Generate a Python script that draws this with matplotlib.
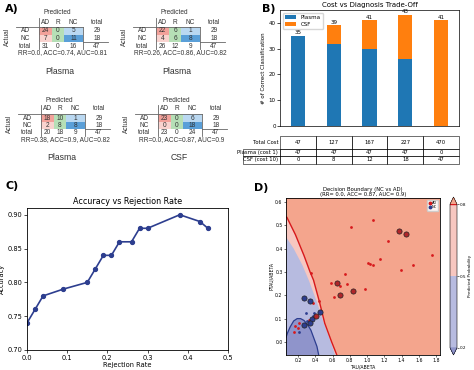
import matplotlib
matplotlib.use('Agg')
import matplotlib.pyplot as plt
import numpy as np
from matplotlib.patches import Rectangle
from matplotlib.colors import ListedColormap, BoundaryNorm
import matplotlib.cm as mcm
from matplotlib.lines import Line2D

# ---------------- Panel A data ----------------
cm_classes = ['AD', 'R', 'NC']
cm_rows = ['AD', 'NC']
cm1 = [[24, 0, 5], [7, 0, 11]]
cm2 = [[22, 6, 1], [4, 6, 8]]
cm3 = [[18, 10, 1], [2, 8, 8]]
cm4 = [[23, 0, 6], [0, 0, 18]]
cm_stats = ['RR=0.0, ACC=0.74, AUC=0.81', 'RR=0.26, ACC=0.86, AUC=0.82',
            'RR=0.38, ACC=0.9, AUC=0.82', 'RR=0.0, ACC=0.87, AUC=0.9']
cm_sample = ['Plasma', 'Plasma', 'Plasma', 'CSF']

# ---------------- Panel B data ----------------
strategies = [0, 1, 2, 3, 4]
plasma_correct = [35, 32, 30, 26, 0]
csf_correct = [0, 7, 11, 17, 41]
table_rows = ['Total Cost', 'Plasma (cost 1)', 'CSF (cost 10)']
total_cost = [47, 127, 167, 227, 470]
plasma_n = [47, 47, 47, 47, 0]
csf_n = [0, 8, 12, 18, 47]

# ---------------- Panel C data ----------------
rej_rate = [0.0, 0.02, 0.04, 0.09, 0.15, 0.17, 0.19, 0.21, 0.23, 0.26, 0.28, 0.30, 0.38, 0.43, 0.45]
accuracy = [0.74, 0.76, 0.78, 0.79, 0.80, 0.82, 0.84, 0.84, 0.86, 0.86, 0.88, 0.88, 0.90, 0.89, 0.88]

# ---------------- Panel D data ----------------
b08_x = [0.061, 0.07, 0.17, 0.27, 0.34, 0.38, 0.45, 0.51, 0.59, 0.65]
b08_y = [0.535, 0.535, 0.46, 0.37, 0.30, 0.265, 0.17, 0.08, 0.0, -0.056]
b05_x = [0.061, 0.15, 0.25, 0.33, 0.42, 0.50, 0.58, 0.63]
b05_y = [0.45, 0.40, 0.33, 0.26, 0.17, 0.08, 0.0, -0.056]
b02_x = [0.061, 0.08, 0.11, 0.15, 0.19, 0.23, 0.27, 0.31, 0.35, 0.39, 0.42, 0.44]
b02_y = [0.02, 0.04, 0.065, 0.09, 0.10, 0.10, 0.092, 0.075, 0.05, 0.01, -0.02, -0.056]
ad_x = [1.073, 0.811, 1.24, 1.754, 1.015, 1.035, 1.066, 1.151, 1.537, 1.398, 0.745, 0.579,
        0.687, 0.772, 0.614, 0.973, 0.351, 0.447, 0.374, 0.208, 0.196, 0.157, 0.169, 0.324]
ad_y = [0.522, 0.493, 0.433, 0.373, 0.34, 0.334, 0.329, 0.354, 0.329, 0.307, 0.291, 0.254,
        0.24, 0.249, 0.194, 0.228, 0.297, 0.176, 0.165, 0.08, 0.06, 0.044, 0.07, 0.094]
nc_x = [0.293, 0.37, 0.215, 0.31, 0.39]
nc_y = [0.123, 0.11, 0.044, 0.09, 0.125]
nc_big_x = [0.266, 0.336, 0.459, 0.362, 0.343, 0.273]
nc_big_y = [0.187, 0.177, 0.129, 0.097, 0.083, 0.073]
ad_big_x = [0.656, 0.683, 0.841, 1.367, 1.449, 0.409]
ad_big_y = [0.251, 0.2, 0.219, 0.477, 0.461, 0.111]
prob_levels = [0.2, 0.5, 0.8]

fig = plt.figure(figsize=(4.74, 3.70), dpi=100)

# ================= Panel A =================
axA = fig.add_axes([0, 0.5, 0.5, 0.5])
axA.set_xlim(0, 237)
axA.set_ylim(185, 0)
axA.axis('off')
FA = 'Liberation Sans'
TC = '#333333'
FS = 4.7
col_edges = [39, 52, 64, 83]
row_edges = [27, 35, 42]
dark = {0: '#f2a19a', 2: '#5a9fd8'}
light = {0: '#f9d3cf', 2: '#bad8f1'}
rcol = '#b6dfb6'


def draw_cm(ox, oy, m, stats, sample):
    m = np.array(m)
    axA.text(ox + 57, oy + 13, 'Predicted', ha='center', va='center', fontsize=FS, family=FA, color=TC)
    axA.text(ox + 7, oy + 37, 'Actual', ha='center', va='center', fontsize=FS, rotation=90, family=FA, color=TC)
    centers = [(col_edges[j] + col_edges[j + 1]) / 2 + ox for j in range(3)]
    for j, c in enumerate(cm_classes):
        axA.text(centers[j], oy + 22, c, ha='center', va='center', fontsize=FS, family=FA, color=TC)
    axA.text(ox + 97, oy + 22, 'total', ha='center', va='center', fontsize=FS, family=FA, color=TC)
    for i, r in enumerate(cm_rows):
        yc = (row_edges[i] + row_edges[i + 1]) / 2 + oy
        axA.text(ox + 25, yc, r, ha='center', va='center', fontsize=FS, family=FA, color=TC)
        for j in range(3):
            if j == 1:
                fc = rcol
            else:
                correct = (i == 0 and j == 0) or (i == 1 and j == 2)
                fc = dark[j] if correct else light[j]
            axA.add_patch(Rectangle((col_edges[j] + ox, row_edges[i] + oy),
                                    col_edges[j + 1] - col_edges[j], row_edges[i + 1] - row_edges[i],
                                    facecolor=fc, edgecolor='none'))
            axA.text(centers[j], yc, str(m[i, j]), ha='center', va='center', fontsize=FS, family=FA, color=TC)
        axA.text(ox + 97, yc, str(m[i].sum()), ha='center', va='center', fontsize=FS, family=FA, color=TC)
    axA.text(ox + 25, oy + 46, 'total', ha='center', va='center', fontsize=FS, family=FA, color=TC)
    for j in range(3):
        axA.text(centers[j], oy + 46, str(m[:, j].sum()), ha='center', va='center', fontsize=FS, family=FA, color=TC)
    axA.text(ox + 97, oy + 46, str(m.sum()), ha='center', va='center', fontsize=FS, family=FA, color=TC)
    lc = '#666666'
    axA.plot([ox + 16, ox + 83], [oy + 27, oy + 27], color=lc, lw=0.6)
    axA.plot([ox + 39, ox + 39], [oy + 18, oy + 49], color=lc, lw=0.6)
    axA.plot([ox + 83, ox + 83], [oy + 27, oy + 49], color=lc, lw=0.6)
    axA.plot([ox + 83, ox + 108], [oy + 42, oy + 42], color=lc, lw=0.6)
    axA.text(ox + 63, oy + 53, stats, ha='center', va='center', fontsize=FS, family=FA, color=TC)
    axA.text(ox + 60, oy + 71, sample, ha='center', va='center', fontsize=6.2, family=FA, color=TC)


offsets = [(0, 0), (117, 0), (2, 87), (119, 87)]
for (ox, oy), m, st, sm in zip(offsets, [cm1, cm2, cm3, cm4], cm_stats, cm_sample):
    draw_cm(ox, oy, m, st, sm)

# ================= Panel B =================
axB = fig.add_axes([280 / 474, 1 - 126 / 370, 179 / 474, 116 / 370])
axB.bar(strategies, plasma_correct, width=0.4, color='#1f77b4', label='Plasma')
axB.bar(strategies, csf_correct, width=0.4, bottom=plasma_correct, color='#ff7f0e', label='CSF')
for s, p, c in zip(strategies, plasma_correct, csf_correct):
    axB.text(s, p + c + 0.3, str(p + c), ha='center', va='bottom', fontsize=4)
axB.set_xlim(-0.5, 4.5)
axB.set_ylim(0, 45)
axB.set_yticks([0, 10, 20, 30, 40])
axB.set_xticks([])
axB.tick_params(axis='y', labelsize=4, length=2, width=0.5, pad=1)
axB.set_ylabel('# of Correct Classification', fontsize=4, labelpad=2)
axB.set_title('Cost vs Diagnosis Trade-Off', fontsize=5, pad=2)
for sp in axB.spines.values():
    sp.set_linewidth(0.5)
axB.legend(loc='upper left', fontsize=4, frameon=True, handlelength=2, borderpad=0.4, labelspacing=0.3)

# table under the bars (drawn in axes coordinates)
cell_text = [[str(v) for v in total_cost], [str(v) for v in plasma_n], [str(v) for v in csf_n]]
H = 116.0
row_tops = [-10 / H, -23 / H, -29.5 / H]
row_bots = [-23 / H, -29.5 / H, -38 / H]
lab_left = -37 / 179
ncol = len(total_cost)
for r in range(3):
    y0, y1 = row_bots[r], row_tops[r]
    ym = (y0 + y1) / 2
    for c in range(ncol):
        x0 = c / ncol
        axB.add_patch(Rectangle((x0, y0), 1 / ncol, y1 - y0, transform=axB.transAxes,
                                clip_on=False, fill=False, lw=0.4, edgecolor='black'))
        axB.text(x0 + 0.5 / ncol, ym, cell_text[r][c], transform=axB.transAxes,
                 ha='center', va='center', fontsize=3.8)
    if r > 0:
        axB.add_patch(Rectangle((lab_left, y0), -lab_left, y1 - y0, transform=axB.transAxes,
                                clip_on=False, fill=False, lw=0.4, edgecolor='black'))
    axB.text(-0.01, ym, table_rows[r], transform=axB.transAxes, ha='right', va='center', fontsize=3.8)

# ================= Panel C =================
axC = fig.add_axes([27 / 474, 1 - 350 / 370, 201 / 474, 142 / 370])
axC.plot(rej_rate, accuracy, color='#2d3e8f', marker='o', ms=2.8, lw=1.2)
axC.set_xlim(0, 0.5)
axC.set_ylim(0.70, 0.91)
axC.set_xticks([0.0, 0.1, 0.2, 0.3, 0.4, 0.5])
axC.set_yticks([0.70, 0.75, 0.80, 0.85, 0.90])
axC.tick_params(labelsize=4.8, length=2, width=0.5, pad=1.5)
axC.set_xlabel('Rejection Rate', fontsize=4.8, labelpad=1)
axC.set_ylabel('Accuracy', fontsize=4.8, labelpad=2)
axC.set_title('Accuracy vs Rejection Rate', fontsize=5.8, pad=3)
for sp in axC.spines.values():
    sp.set_linewidth(0.6)

# ================= Panel D =================
XMIN, XMAX, YMIN, YMAX = 0.061, 1.846, -0.056, 0.617
c_over = '#f4a58d'
c_hi = '#f7c7c0'
c_lo = '#b7bbe0'
c_under = '#8f94cb'
axD = fig.add_axes([286 / 474, 1 - 355 / 370, 154 / 474, 157 / 370])
axD.set_facecolor(c_over)
axD.fill(b08_x + [XMIN, XMIN], b08_y + [YMIN, b08_y[0]], color=c_hi, lw=0)
axD.fill(b05_x + [XMIN, XMIN], b05_y + [YMIN, b05_y[0]], color=c_lo, lw=0)
axD.fill(b02_x + [XMIN, XMIN], b02_y + [YMIN, b02_y[0]], color=c_under, lw=0)
axD.plot(b08_x, b08_y, color='#d7191c', lw=1.0)
axD.plot(b02_x, b02_y, color='#2c3d8f', lw=0.9)
axD.scatter(ad_x, ad_y, s=4, color='#d7191c', lw=0, zorder=3)
axD.scatter(nc_x, nc_y, s=4, color='#2c3d8f', lw=0, zorder=3)
axD.scatter(nc_big_x, nc_big_y, s=14, facecolor='#2c3d8f', edgecolor='#222222', lw=0.5, zorder=4)
axD.scatter(ad_big_x, ad_big_y, s=14, facecolor='#b0262a', edgecolor='#222222', lw=0.5, zorder=4)
axD.set_xlim(XMIN, XMAX)
axD.set_ylim(YMIN, YMAX)
axD.set_xticks([0.2, 0.4, 0.6, 0.8, 1.0, 1.2, 1.4, 1.6, 1.8])
axD.set_yticks([0.0, 0.1, 0.2, 0.3, 0.4, 0.5, 0.6])
axD.tick_params(labelsize=3.3, length=1.5, width=0.4, pad=1)
axD.set_xlabel('TAU/ABETA', fontsize=3.3, labelpad=1)
axD.set_ylabel('PTAU/ABETA', fontsize=3.3, labelpad=1)
axD.set_title('Decision Boundary (NC vs AD)\n(RR= 0.0, ACC= 0.87, AUC= 0.9)', fontsize=3.8, pad=1.5, linespacing=1.0)
for sp in axD.spines.values():
    sp.set_linewidth(0.6)
handles = [Line2D([], [], ls='', marker='o', ms=1.8, color='#d7191c'),
           Line2D([], [], ls='', marker='o', ms=1.8, color='#2c3d8f')]
axD.legend(handles, ['AD', 'NC'], loc='upper right', fontsize=2.5, handlelength=0.8,
           borderpad=0.3, labelspacing=0.2, handletextpad=0.3, framealpha=0.9)

cax = fig.add_axes([450 / 474, 1 - 355 / 370, 7 / 474, 158 / 370])
cmap = ListedColormap([c_lo, c_hi])
cmap.set_under(c_under)
cmap.set_over(c_over)
norm = BoundaryNorm(prob_levels, cmap.N)
sm = mcm.ScalarMappable(norm=norm, cmap=cmap)
cb = fig.colorbar(sm, cax=cax, extend='both', ticks=prob_levels)
cb.ax.tick_params(labelsize=3, length=1.5, width=0.4, pad=0.8)
cb.set_label('Predicted Probability', fontsize=3, labelpad=1)
cb.outline.set_linewidth(0.4)
cb.ax.axhline(0.8, color='#d7191c', lw=1.0)
cb.ax.axhline(0.2, color='#2c3d8f', lw=1.0)

# panel labels
fig.text(5 / 474, 1 - 9 / 370, 'A)', fontsize=8, fontweight='bold', va='center')
fig.text(262 / 474, 1 - 9 / 370, 'B)', fontsize=8, fontweight='bold', va='center')
fig.text(5 / 474, 1 - 186 / 370, 'C)', fontsize=8, fontweight='bold', va='center')
fig.text(254 / 474, 1 - 188 / 370, 'D)', fontsize=8, fontweight='bold', va='center')

fig.savefig('out.png', dpi=100)
